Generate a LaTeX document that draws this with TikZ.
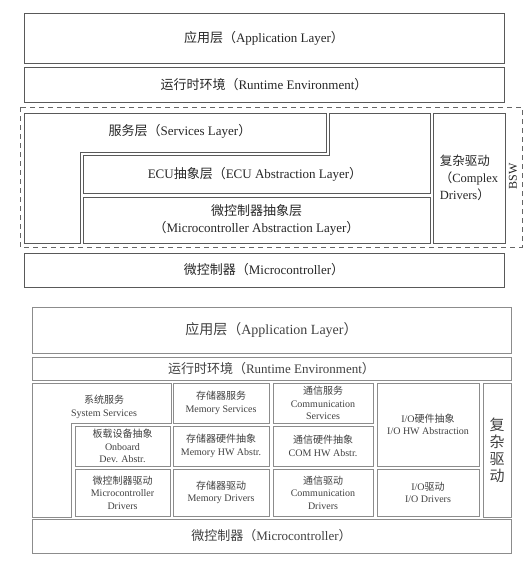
\documentclass[tikz,border=0pt]{standalone}
\usepackage{fontspec}
\setmainfont{Liberation Serif}
\newfontfamily\cjk{Noto Sans CJK SC}
\newcommand{\zh}[1]{{\cjk #1}}
\usepackage{tikz}
\tikzstyle{layer} = [rectangle, draw=black!65, line width=0.9pt, inner sep=0pt, align=center, text=black!85, font=\fontsize{13}{17}\selectfont]
\tikzstyle{shapeline} = [draw=black!65, line width=0.9pt]
\tikzstyle{label} = [inner sep=0pt, align=center, text=black!85, font=\fontsize{13}{17}\selectfont]
\tikzstyle{bsw} = [draw=black!60, line width=0.7pt, dash pattern=on 5pt off 4pt]
\tikzstyle{cell} = [rectangle, draw=black!45, line width=0.6pt, inner sep=0pt, align=center, text=black!75, font=\fontsize{10}{12.5}\selectfont]
\tikzstyle{cellline} = [draw=black!45, line width=0.6pt]
\tikzstyle{celllabel} = [inner sep=0pt, align=center, text=black!75, font=\fontsize{10}{12.5}\selectfont]

\begin{document}
\begin{tikzpicture}[x=1pt,y=-1pt]
                \useasboundingbox (0,0) rectangle (524,570);
                \node (app) [layer, minimum width=480, minimum height=50] at (264,38) {\zh{应用层（}Application Layer\zh{）}};
                \node (rte) [layer, minimum width=480, minimum height=35] at (264,84.5) {\zh{运行时环境（}Runtime Environment\zh{）}};
                \draw[shapeline] (24,113) -- (326,113) -- (326,152) -- (80,152) -- (80,243) -- (24,243) -- cycle;
                \node (services) [label] at (180,131) {\zh{服务层（}Services Layer\zh{）}};
                \draw[shapeline] (83,155) -- (329,155) -- (329,113) -- (430,113) -- (430,193) -- (83,193) -- cycle;
                \node (ecu) [label] at (255,174) {ECU\zh{抽象层（}ECU Abstraction Layer\zh{）}};
                \node (mcal) [layer, minimum width=347, minimum height=46] at (256.5,220) {\zh{微控制器抽象层}\\\zh{（}Microcontroller Abstraction Layer\zh{）}};
                \node (complex) [layer, align=left, font=\fontsize{12.5}{17}\selectfont, minimum width=72, minimum height=130] at (469,178) {\zh{复杂驱动}\\\zh{（}Complex\\Drivers\zh{）}};
                \draw[bsw] (20,107) rectangle (522,247);
                \node (bswlabel) [label, font=\fontsize{12}{14}\selectfont, rotate=90] at (513,176) {BSW};
                \node (mcu) [layer, minimum width=480, minimum height=34] at (264,270) {\zh{微控制器（}Microcontroller\zh{）}};

                \node (app2) [cell, font=\fontsize{14}{16}\selectfont, minimum width=479, minimum height=46] at (271.5,330) {\zh{应用层（}Application Layer\zh{）}};
                \node (rte2) [cell, font=\fontsize{13}{15}\selectfont, minimum width=479, minimum height=23] at (271.5,368.5) {\zh{运行时环境（}Runtime Environment\zh{）}};
                \draw[cellline] (32,383) -- (171,383) -- (171,423) -- (71,423) -- (71,517) -- (32,517) -- cycle;
                \node (syssrv) [celllabel] at (104,407) {\zh{系统服务}\\System Services};
                \node (memsrv) [cell, minimum width=96, minimum height=40] at (221,403) {\zh{存储器服务}\\Memory Services};
                \node (comsrv) [cell, minimum width=100, minimum height=40] at (323,403) {\zh{通信服务}\\Communication\\Services};
                \node (iohw) [cell, minimum width=102, minimum height=83] at (428,424.5) {I/O\zh{硬件抽象}\\I/O HW Abstraction};
                \node (onboard) [cell, minimum width=95, minimum height=40] at (122.5,446) {\zh{板载设备抽象}\\Onboard\\Dev. Abstr.};
                \node (memhw) [cell, minimum width=96, minimum height=40] at (221,446) {\zh{存储器硬件抽象}\\Memory HW Abstr.};
                \node (comhw) [cell, minimum width=100, minimum height=40] at (323,446) {\zh{通信硬件抽象}\\COM HW Abstr.};
                \node (mcdrv) [cell, minimum width=95, minimum height=47] at (122.5,492.5) {\zh{微控制器驱动}\\Microcontroller\\Drivers};
                \node (memdrv) [cell, minimum width=96, minimum height=47] at (221,492.5) {\zh{存储器驱动}\\Memory Drivers};
                \node (comdrv) [cell, minimum width=100, minimum height=47] at (323,492.5) {\zh{通信驱动}\\Communication\\Drivers};
                \node (iodrv) [cell, minimum width=102, minimum height=47] at (428,492.5) {I/O\zh{驱动}\\I/O Drivers};
                \node (cdd) [cell, font=\fontsize{15}{17}\selectfont, minimum width=28, minimum height=134] at (497,450) {\zh{复}\\\zh{杂}\\\zh{驱}\\\zh{动}};
                \node (mcu2) [cell, font=\fontsize{13}{15}\selectfont, minimum width=479, minimum height=34] at (271.5,536) {\zh{微控制器（}Microcontroller\zh{）}};
            \end{tikzpicture}
\end{document}
